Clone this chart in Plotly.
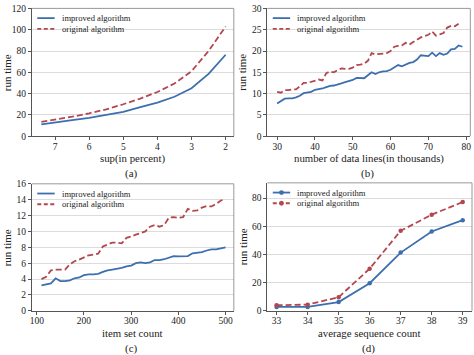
import plotly.graph_objects as go

# ---- data ----
a_x = [7.4, 7.0, 6.5, 6.0, 5.5, 5.0, 4.5, 4.0, 3.5, 3.0, 2.5, 2.0]
a_improved = [11.0, 13.0, 15.0, 17.2, 19.8, 22.8, 27.3, 31.5, 37.0, 45.0, 58.5, 76.5]
a_original = [13.5, 15.5, 18.3, 21.5, 25.2, 30.0, 35.3, 41.5, 49.5, 61.0, 80.0, 103.0]

b_x_imp = list(range(30, 80))
b_improved = [7.7, 8.2, 8.8, 8.9, 8.9, 9.1, 9.5, 10.1, 10.2, 10.4, 10.9, 11.0, 11.2, 11.5, 11.8,
              11.9, 12.1, 12.4, 12.7, 12.9, 13.2, 13.7, 13.6, 13.6, 14.3, 15.0, 14.6, 15.0, 15.2,
              15.3, 15.6, 16.2, 16.7, 16.4, 16.8, 17.2, 17.4, 18.0, 19.0, 18.9, 18.8, 19.6, 18.8,
              19.5, 19.1, 19.4, 20.4, 20.5, 21.3, 21.0]
b_x_orig = list(range(30, 79))
b_original = [10.4, 10.2, 10.8, 10.8, 11.0, 11.0, 11.7, 12.5, 12.5, 12.8, 13.1, 13.3, 13.1, 14.8,
              15.2, 15.0, 15.5, 15.9, 15.8, 15.8, 16.1, 16.7, 16.8, 17.0, 17.7, 19.5, 19.2, 19.3,
              19.5, 19.5, 20.0, 21.0, 21.2, 21.3, 21.9, 21.5, 22.1, 22.7, 23.2, 23.5, 23.8, 24.6,
              23.6, 23.9, 24.2, 25.5, 25.9, 25.8, 26.4]

c_x = list(range(110, 510, 10))
c_improved = [3.2, 3.35, 3.45, 4.1, 3.75, 3.75, 3.85, 4.1, 4.2, 4.5, 4.6, 4.6, 4.65, 4.9, 5.1,
              5.2, 5.3, 5.4, 5.6, 5.7, 6.0, 6.1, 6.0, 6.1, 6.4, 6.4, 6.5, 6.7, 6.9, 6.85, 6.85,
              6.9, 7.25, 7.35, 7.4, 7.6, 7.75, 7.75, 7.9, 8.0]
c_original = [4.0, 4.3, 5.1, 5.2, 5.2, 5.2, 5.85, 6.25, 6.45, 6.7, 7.0, 7.1, 7.2, 8.1, 8.3,
              8.6, 8.6, 8.5, 9.2, 9.35, 9.6, 9.8, 10.0, 10.6, 10.8, 10.6, 10.8, 11.75, 11.8, 11.7,
              11.8, 12.85, 12.6, 12.65, 13.0, 13.2, 13.15, 13.45, 13.9, 14.0]

d_x = [33, 34, 35, 36, 37, 38, 39]
d_improved = [2.8, 2.8, 6.2, 19.6, 41.3, 56.3, 64.3]
d_original = [4.0, 4.4, 9.7, 29.9, 56.8, 68.2, 77.2]

xlabels = ["sup(in percent)", "number of data lines(in thousands)", "item set count",
           "average sequence count"]
panel_tags = ["(a)", "(b)", "(c)", "(d)"]
series_names = ["improved algorithm", "original algorithm"]

# ---- style ----
W, H = 474, 355
BLUE = "#3d6fae"
RED = "#b2474f"
FONT = "Liberation Serif"
TXT = "#222"


def px(x):
    return x / W


def py(y):
    return (H - y) / H


# panels: (left, right, top, bottom) in pixels
boxes = [(30, 233.3, 3.5, 135), (267, 471.3, 3.5, 135),
         (30, 233.3, 184, 314.7), (267, 473, 183, 314.7)]
xranges = [[7.68, 1.76], [27.4, 81.1], [89.5, 517.5], [32.7, 39.3]]
yranges = [[0, 120], [0, 30], [0, 16], [0, 90.8]]
ydticks = [20, 5, 2, 20]
xticks = [[7, 6, 5, 4, 3, 2], [30, 40, 50, 60, 70, 80], [100, 200, 300, 400, 500],
          [33, 34, 35, 36, 37, 38, 39]]

fig = go.Figure()

data = [
    (a_x, a_improved, a_x, a_original, False),
    (b_x_imp, b_improved, b_x_orig, b_original, False),
    (c_x, c_improved, c_x, c_original, False),
    (d_x, d_improved, d_x, d_original, True),
]

layout = dict(width=W, height=H, margin=dict(l=0, r=0, t=0, b=0),
              paper_bgcolor="white", plot_bgcolor="white",
              font=dict(family=FONT, size=10, color=TXT), showlegend=False)
annotations = []
shapes = []

for i, (xi, yi, xo, yo, markers) in enumerate(data):
    n = i + 1
    xa = "x" if n == 1 else f"x{n}"
    ya = "y" if n == 1 else f"y{n}"
    mode = "lines+markers" if markers else "lines"
    fig.add_trace(go.Scatter(x=xi, y=yi, mode=mode, name=series_names[0],
                             line=dict(color=BLUE, width=1.8),
                             marker=dict(size=4.5, color=BLUE),
                             xaxis=xa, yaxis=ya))
    fig.add_trace(go.Scatter(x=xo, y=yo, mode=mode, name=series_names[1],
                             line=dict(color=RED, width=1.8, dash="6px,3px"),
                             marker=dict(size=4.5, color=RED),
                             xaxis=xa, yaxis=ya))
    l, r, t, b = boxes[i]
    xkey = "xaxis" if n == 1 else f"xaxis{n}"
    ykey = "yaxis" if n == 1 else f"yaxis{n}"
    layout[xkey] = dict(domain=[px(l), px(r)], range=xranges[i], anchor=ya,
                        tickvals=xticks[i], showgrid=False, zeroline=False,
                        showline=True, linecolor="#555", linewidth=1,
                        ticks="outside", ticklen=3, tickcolor="#555",
                        ticklabelstandoff=-2,
                        tickfont=dict(size=9.5, family=FONT, color=TXT))
    layout[ykey] = dict(domain=[py(b), py(t)], range=yranges[i], anchor=xa,
                        dtick=ydticks[i], tick0=0, showgrid=True, gridcolor="#dcdcdc",
                        gridwidth=1, zeroline=False,
                        showline=True, linecolor="#555", linewidth=1,
                        ticks="outside", ticklen=3, tickcolor="#555",
                        tickfont=dict(size=9.5, family=FONT, color=TXT))
    # top / right frame
    shapes.append(dict(type="line", xref=f"{xa} domain", yref=f"{ya} domain",
                       x0=0, x1=1, y0=1, y1=1, line=dict(color="#999", width=1)))
    shapes.append(dict(type="line", xref=f"{xa} domain", yref=f"{ya} domain",
                       x0=1, x1=1, y0=0, y1=1, line=dict(color="#999", width=1)))

    # legend (drawn by hand: short samples as in the reference)
    lx0 = l + 5.5
    lx1 = l + 23
    tx = l + 28
    row1 = t + 10
    row2 = t + 21
    shapes.append(dict(type="rect", xref="paper", yref="paper", layer="between",
                       x0=px(l + 2), x1=px(l + 100), y0=py(t + 28), y1=py(t + 3),
                       fillcolor="white", line=dict(width=0)))
    for row, col, dash in [(row1, BLUE, "solid"), (row2, RED, "4px,2.5px")]:
        shapes.append(dict(type="line", xref="paper", yref="paper",
                           x0=px(lx0), x1=px(lx1), y0=py(row), y1=py(row),
                           line=dict(color=col, width=1.8, dash=dash)))
        if markers:
            cxm = (lx0 + lx1) / 2
            shapes.append(dict(type="circle", xref="paper", yref="paper",
                               x0=px(cxm - 2.2), x1=px(cxm + 2.2),
                               y0=py(row + 2.2), y1=py(row - 2.2),
                               fillcolor=col, line=dict(color=col, width=0.5)))
    for row, name in [(row1, series_names[0]), (row2, series_names[1])]:
        annotations.append(dict(text=name, x=px(tx), y=py(row), xref="paper", yref="paper",
                                showarrow=False, xanchor="left", yanchor="middle",
                                font=dict(size=8.6, family=FONT, color=TXT)))

    cx = (l + r) / 2
    annotations.append(dict(text=xlabels[i], x=px(cx), y=py(b + 23), xref="paper", yref="paper",
                            showarrow=False, font=dict(size=10.8, family=FONT, color=TXT),
                            xanchor="center", yanchor="middle"))
    annotations.append(dict(text=panel_tags[i], x=px(cx - 1), y=py(b + 38.5), xref="paper",
                            yref="paper", showarrow=False,
                            font=dict(size=11, family=FONT, color=TXT),
                            xanchor="center", yanchor="middle"))
    annotations.append(dict(text="run time", x=px(l - 25), y=py((t + b) / 2), xref="paper",
                            yref="paper", showarrow=False, textangle=-90,
                            font=dict(size=11, family=FONT, color=TXT),
                            xanchor="center", yanchor="middle"))

layout["annotations"] = annotations
layout["shapes"] = shapes
fig.update_layout(**layout)
fig.write_html("out.html", config={"displayModeBar": False},
               post_script="document.body.style.margin='0';document.body.style.padding='0';")
